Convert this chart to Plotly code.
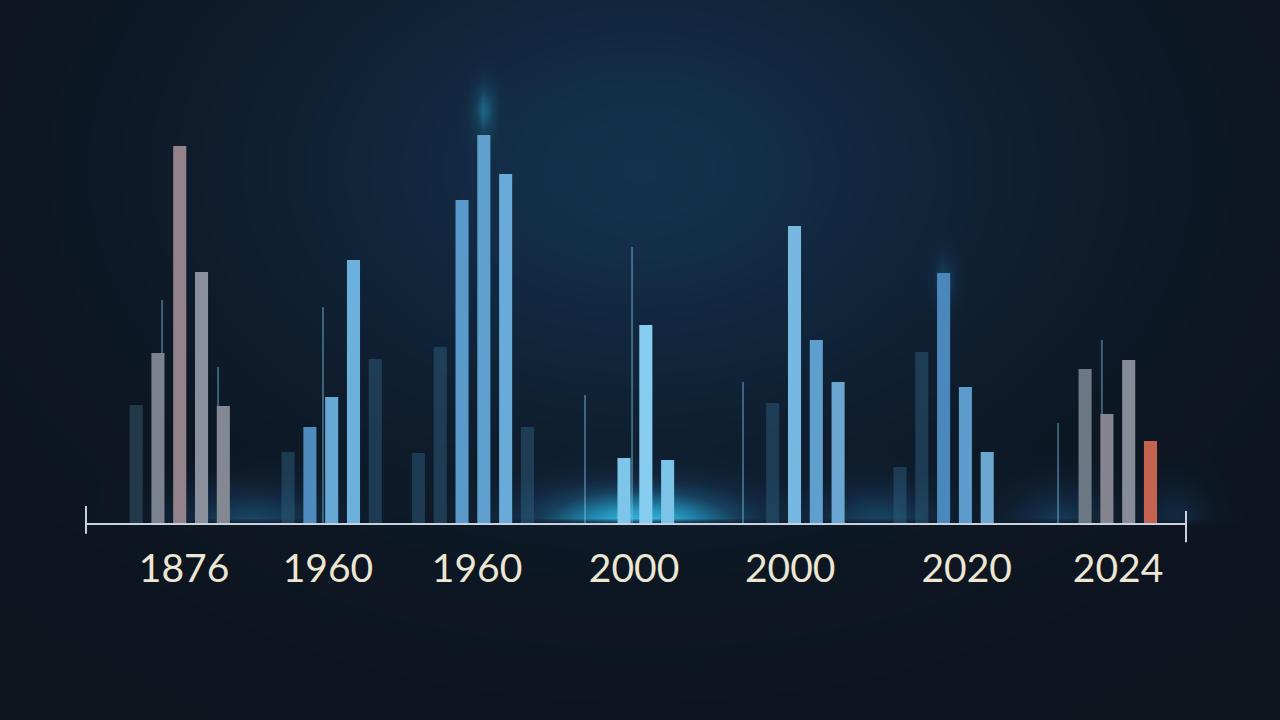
import numpy as np
import plotly.graph_objects as go

# tick labels under each cluster (the picture repeats some of them)
years = ["1876", "1960", "1960", "2000", "2000", "2020", "2024"]

# bar heights per cluster (px above the axis line)
g1876 = [118, 170, 377, 251, 117]
g1960a = [71, 96, 126, 263, 164]
g1960b = [70, 176, 323, 388, 349, 96]
g2000a = [65, 198, 63]
g2000b = [120, 297, 183, 141]
g2020 = [56, 171, 250, 136, 71]
g2024 = [154, 109, 163, 82]
groups = [g1876, g1960a, g1960b, g2000a, g2000b, g2020, g2024]

# thin light streaks: heights per cluster
streaks = [[223, 156], [216], [], [128, 276], [141], [], [100, 183]]

# --- layout / style, kept apart from the values ---
SLOT = 21.8  # px per bar slot
group_start = [2.3, 9.27, 15.25, 24.68, 31.5, 37.34, 45.83]
streak_pos = [[3.49, 6.06], [10.87], [], [22.89, 25.05], [30.14], [], [44.59, 46.6]]
label_pos = [4.5, 11.1, 17.94, 25.14, 32.3, 40.4, 47.34]

GH = "rgba(48,100,130,0.45)"
GH2 = "rgba(55,85,105,0.55)"
colors = [
    [GH2, "#7b818d", "#94828b", "#8a909b", "#838893"],
    [GH, "#4d8cbc", "#67a9d6", "#6cb0dc", GH],
    [GH, GH, "#5a99c9", "#5fa0cf", "#69aad8", GH],
    ["#7ec5ea", "#86cdf0", "#7cc3e8"],
    [GH, "#76b8e0", "#5e9fcd", "#6aa6cf"],
    [GH, GH, "#4a88bb", "#5c9bcb", "#6ba7cf"],
    ["#6c7984", "#858592", "#878b96", "#c2644f"],
]

W, H = 1280, 720
AX_Y = 523
PLOT_L, PLOT_R, PLOT_T = 86, 1186, 40

fig = go.Figure()

# background glow (decorative), in pixel space of the whole page
gx = np.linspace(0, W, 160)
gy = np.linspace(0, H, 90)
X, Y = np.meshgrid(gx, gy)
z = 0.38 * np.exp(-((X - 640) / 420) ** 2 - ((Y - 170) / 290) ** 2)
above = (Y <= AX_Y + 2).astype(float)
for cx, w, a in [(250, 75, 0.5), (640, 110, 0.9), (880, 60, 0.45), (1060, 50, 0.4), (1175, 30, 0.3)]:
    z += a * above * np.exp(-((X - cx) / w) ** 2 - ((Y - AX_Y) / 35) ** 2)
for cx, cy, a in [(484, 110, 0.35), (944, 280, 0.3)]:
    z += a * np.exp(-((X - cx) / 10) ** 2 - ((Y - cy) / 25) ** 2)
fig.add_trace(go.Heatmap(
    x=gx, y=gy, z=z, zsmooth="best", showscale=False, hoverinfo="skip",
    zmin=0, zmax=1.0,
    colorscale=[[0, "#0c141e"], [0.3, "#122840"], [0.5, "#17405c"],
                [0.75, "#1f7aa0"], [1, "#35b8e0"]],
    xaxis="x", yaxis="y",
))

# streaks
sx, sh = [], []
for g, hs in enumerate(streaks):
    for p, h in zip(streak_pos[g], hs):
        sx.append(p)
        sh.append(h)
fig.add_trace(go.Bar(
    x=sx, y=sh, width=0.09, marker=dict(color="rgba(120,190,225,0.45)", line_width=0),
    xaxis="x2", yaxis="y2", hoverinfo="skip", showlegend=False,
))

# bars
bx, by, bc = [], [], []
for g, vals in enumerate(groups):
    for i, v in enumerate(vals):
        bx.append(group_start[g] + i)
        by.append(v)
        bc.append(colors[g][i])
fig.add_trace(go.Bar(
    x=bx, y=by, width=0.6, marker=dict(color=bc, line_width=0),
    xaxis="x2", yaxis="y2", showlegend=False,
))

xr = (PLOT_R - PLOT_L) / SLOT
fig.update_layout(
    width=W, height=H,
    margin=dict(l=0, r=0, t=0, b=0),
    paper_bgcolor="#0d1620",
    plot_bgcolor="rgba(0,0,0,0)",
    showlegend=False,
    barmode="overlay",
    xaxis=dict(domain=[0, 1], range=[0, W], visible=False, fixedrange=True),
    yaxis=dict(domain=[0, 1], range=[H, 0], visible=False, fixedrange=True),
    xaxis2=dict(
        domain=[PLOT_L / W, PLOT_R / W], range=[0, xr], anchor="y2",
        showgrid=False, zeroline=False, showline=True, linecolor="#c9d2da", linewidth=2,
        tickmode="array", tickvals=label_pos, ticktext=years, ticks="",
        tickfont=dict(family="Lato", size=39, color="#ece6d2"),
        ticklabelstandoff=10,
    ),
    yaxis2=dict(
        domain=[(H - AX_Y) / H, (H - PLOT_T) / H], range=[0, AX_Y - PLOT_T], anchor="x2",
        visible=False,
    ),
    shapes=[
        dict(type="line", xref="x2 domain", yref="y2 domain", x0=0, x1=0, y0=-0.022, y1=0.035,
             line=dict(color="#c9d2da", width=2)),
        dict(type="line", xref="x2 domain", yref="y2 domain", x0=1, x1=1, y0=-0.04, y1=0.025,
             line=dict(color="#c9d2da", width=2)),
    ],
)

fig.write_html("out.html", config={"displayModeBar": False},
               post_script="document.body.style.margin='0';")
